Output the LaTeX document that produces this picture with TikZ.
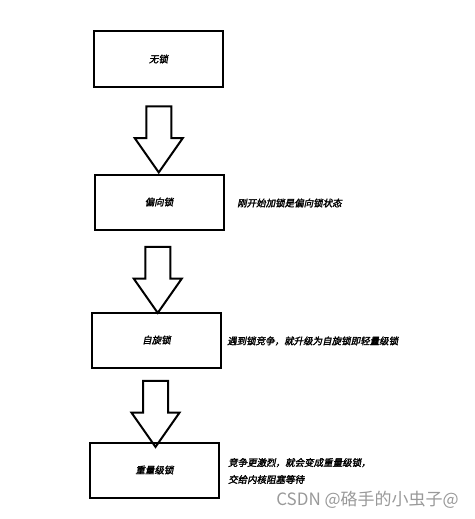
\documentclass[tikz,border=0pt]{standalone}
\usepackage{fontspec}
\newfontfamily\cjk{Noto Sans CJK SC}[FakeSlant=0.2,FakeBold=2]
\newfontfamily\wmfont{Noto Sans CJK SC}
\usetikzlibrary{calc,shapes.arrows}

\begin{document}
\begin{tikzpicture}[x=1pt,y=-1pt,
  lockbox/.style={draw,line width=2pt,minimum width=129pt,minimum height=55pt,
    inner sep=0pt,font=\cjk\fontsize{9.5}{11}\selectfont},
  upgrade/.style={single arrow,draw,line width=2pt,shape border rotate=270,
    single arrow tip angle=70,single arrow head extend=11.5pt,inner sep=11.5pt,
    minimum height=66pt},
  note/.style={anchor=west,align=left,inner sep=0pt,
    font=\cjk\fontsize{9.5}{17}\selectfont}]
  \useasboundingbox (0,0) rectangle (474,519);

  % lock states
  \node[lockbox] (nolock)  at (158.5,59)  {无锁};
  \node[lockbox] (biased)  at (159,202)   {偏向锁};
  \node[lockbox] (spin)    at (156.5,340) {自旋锁};
  \node[lockbox] (heavy)   at (154.5,470) {重量级锁};

  % upgrade arrows
  \node[upgrade] (up1) at ($(nolock.south)!0.5!(biased.north)$) {};
  \node[upgrade] (up2) at ($(biased.south)!0.5!(spin.north)$) {};
  \node[upgrade] (up3) at ($(spin.south)!0.5!(heavy.north)$) {};

  % notes
  \node[note] (biasednote) at (237,203) {刚开始加锁是偏向锁状态};
  \node[note] (spinnote)   at (227,341) {遇到锁竞争，就升级为自旋锁即轻量级锁};
  \node[note] (heavynote)  at (228,471) {竞争更激烈，就会变成重量级锁，\\交给内核阻塞等待};

  \node[anchor=east,inner sep=0pt,text=black!40,font=\wmfont\fontsize{17}{19}\selectfont]
    (mark) at (459,500) {CSDN @硌手的小虫子@};
\end{tikzpicture}
\end{document}
